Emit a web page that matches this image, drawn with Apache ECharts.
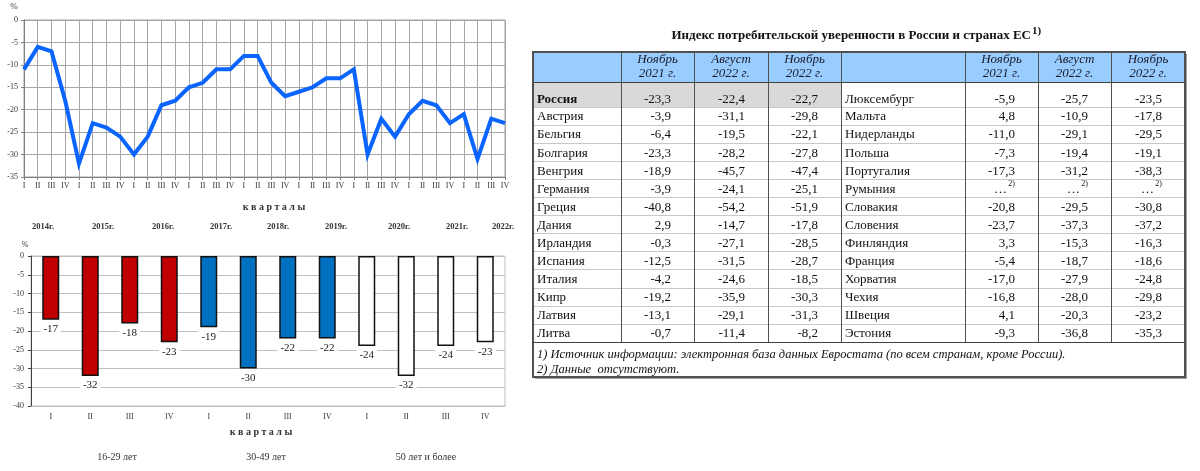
<!DOCTYPE html>
<html><head><meta charset="utf-8">
<script src="https://cdn.jsdelivr.net/npm/echarts@6/dist/echarts.min.js"></script>
<style>html,body{margin:0;padding:0;background:#fff}#c{width:1200px;height:471px}</style>
</head><body><div id="c"></div>
<script>
// ---------- DATA ----------
const quarterNames = ['I', 'II', 'III', 'IV'];
const lineYears = ['2014г.', '2015г.', '2016г.', '2017г.', '2018г.', '2019г.', '2020г.', '2021г.', '2022г.'];
const lineValues = [
  -11, -6, -7, -18,
  -32, -23, -24, -26,
  -30, -26, -19, -18,
  -15, -14, -11, -11,
  -8, -8, -14, -17,
  -16, -15, -13, -13,
  -11, -30, -22, -26,
  -21, -18, -19, -23,
  -21, -31, -22, -23
];
const lineCategories = [];
lineYears.forEach(() => quarterNames.forEach(q => lineCategories.push(q)));

const barGroups = ['16-29 лет', '30-49 лет', '50 лет и более'];
const barCategories = ['I', 'II', 'III', 'IV', 'I', 'II', 'III', 'IV', 'I', 'II', 'III', 'IV'];
const barValues = [-17, -32, -18, -23, -19, -30, -22, -22, -24, -32, -24, -23];

const tableTitle = 'Индекс потребительской уверенности в России и странах ЕС';
const tableHeaders = ['Ноябрь\n2021 г.', 'Август\n2022 г.', 'Ноябрь\n2022 г.'];
const countriesLeft = ['Россия', 'Австрия', 'Бельгия', 'Болгария', 'Венгрия', 'Германия', 'Греция', 'Дания', 'Ирландия', 'Испания', 'Италия', 'Кипр', 'Латвия', 'Литва'];
const nov2021Left = [-23.3, -3.9, -6.4, -23.3, -18.9, -3.9, -40.8, 2.9, -0.3, -12.5, -4.2, -19.2, -13.1, -0.7];
const aug2022Left = [-22.4, -31.1, -19.5, -28.2, -45.7, -24.1, -54.2, -14.7, -27.1, -31.5, -24.6, -35.9, -29.1, -11.4];
const nov2022Left = [-22.7, -29.8, -22.1, -27.8, -47.4, -25.1, -51.9, -17.8, -28.5, -28.7, -18.5, -30.3, -31.3, -8.2];
const countriesRight = ['Люксембург', 'Мальта', 'Нидерланды', 'Польша', 'Португалия', 'Румыния', 'Словакия', 'Словения', 'Финляндия', 'Франция', 'Хорватия', 'Чехия', 'Швеция', 'Эстония'];
const nov2021Right = [-5.9, 4.8, -11.0, -7.3, -17.3, null, -20.8, -23.7, 3.3, -5.4, -17.0, -16.8, 4.1, -9.3];
const aug2022Right = [-25.7, -10.9, -29.1, -19.4, -31.2, null, -29.5, -37.3, -15.3, -18.7, -27.9, -28.0, -20.3, -36.8];
const nov2022Right = [-23.5, -17.8, -29.5, -19.1, -38.3, null, -30.8, -37.2, -16.3, -18.6, -24.8, -29.8, -23.2, -35.3];
const footnotes = [
  '1) Источник информации: электронная база данных Евростата (по всем странам, кроме России).',
  '2) Данные  отсутствуют.'
];

// ---------- STYLE / LAYOUT ----------
const SERIF = '"Liberation Serif", "DejaVu Serif", serif';
const groupColors = ['#c00000', '#0070c0', '#ffffff'];
const yearLabelX = [43, 103, 163, 221, 278, 336, 399, 457, 503];
const groupLabelX = [117, 266, 426];

const chart = echarts.init(document.getElementById('c'), null, { renderer: 'canvas' });

const fmt = v => v === null ? null : v.toFixed(1).replace('.', ',');

// ---------- TABLE (graphic) ----------
const G = [];
const X = [533, 621, 694, 768, 841, 965, 1038, 1111, 1185];
const yHeadTop = 52, yHeadBot = 82, yRusBot = 107, rowH = 18.05;
const nRows = countriesLeft.length;
const yFootTop = yRusBot + (nRows - 1) * rowH;
const yBot = 377;
const rowTop = i => i === 0 ? yHeadBot : yRusBot + (i - 1) * rowH;
const rowBot = i => i === 0 ? yRusBot : yRusBot + i * rowH;
const rowTextY = i => i === 0 ? 100 : rowTop(i) + rowH / 2 + 1;

G.push({ type: 'rect', shape: { x: X[0], y: yHeadTop, width: X[8] - X[0], height: yHeadBot - yHeadTop }, style: { fill: '#99ccff' }, silent: true });
G.push({ type: 'rect', shape: { x: X[0], y: yHeadBot, width: X[4] - X[0], height: yRusBot - yHeadBot }, style: { fill: '#d9d9d9' }, silent: true });
for (let i = 0; i < nRows - 1; i++) {
  const y = Math.round(rowBot(i)) + 0.5;
  G.push({ type: 'line', shape: { x1: X[0], y1: y, x2: X[8], y2: y }, style: { stroke: '#c8c8c8', lineWidth: 1 }, silent: true });
}
G.push({ type: 'line', shape: { x1: X[0], y1: yHeadBot + 0.5, x2: X[8], y2: yHeadBot + 0.5 }, style: { stroke: '#404040', lineWidth: 1 }, silent: true });
G.push({ type: 'line', shape: { x1: X[0], y1: Math.round(yFootTop) + 0.5, x2: X[8], y2: Math.round(yFootTop) + 0.5 }, style: { stroke: '#404040', lineWidth: 1 }, silent: true });
for (let c = 1; c < 8; c++) {
  G.push({ type: 'line', shape: { x1: X[c] + 0.5, y1: yHeadTop, x2: X[c] + 0.5, y2: Math.round(yFootTop) }, style: { stroke: '#505050', lineWidth: 1 }, silent: true });
}
G.push({ type: 'rect', shape: { x: X[0], y: yHeadTop, width: X[8] - X[0], height: yBot - yHeadTop }, style: { fill: 'none', stroke: '#505050', lineWidth: 2 }, silent: true });
G.push({ type: 'line', shape: { x1: X[8] + 1.5, y1: yHeadTop + 2, x2: X[8] + 1.5, y2: yBot + 1.5 }, style: { stroke: '#a0a0a0', lineWidth: 1 }, silent: true });
G.push({ type: 'line', shape: { x1: X[0] + 2, y1: yBot + 1.5, x2: X[8] + 1.5, y2: yBot + 1.5 }, style: { stroke: '#a0a0a0', lineWidth: 1 }, silent: true });

// title
G.push({ type: 'text', style: { x: 1031, y: 36, text: tableTitle, font: 'bold 13px ' + SERIF, textAlign: 'right', textVerticalAlign: 'middle', fill: '#111' }, silent: true });
G.push({ type: 'text', style: { x: 1032, y: 31, text: '1)', font: 'bold 11px ' + SERIF, textAlign: 'left', textVerticalAlign: 'middle', fill: '#111' }, silent: true });

// headers
[1, 2, 3, 5, 6, 7].forEach((c, k) => {
  const h = tableHeaders[k % 3].split('\n');
  const cx = (X[c] + X[c + 1]) / 2;
  G.push({ type: 'text', style: { x: cx, y: 60, text: h[0], font: 'italic 13px ' + SERIF, textAlign: 'center', textVerticalAlign: 'middle', fill: '#1a1a2a' }, silent: true });
  G.push({ type: 'text', style: { x: cx, y: 74, text: h[1], font: 'italic 13px ' + SERIF, textAlign: 'center', textVerticalAlign: 'middle', fill: '#1a1a2a' }, silent: true });
});

function addRow(i, name, vals, nameX, c0) {
  const y = rowTextY(i);
  G.push({ type: 'text', style: { x: nameX, y: y, text: name, font: (i === 0 && c0 === 1 ? 'bold ' : '') + '13px ' + SERIF, textAlign: 'left', textVerticalAlign: 'middle', fill: '#111' }, silent: true });
  vals.forEach((v, k) => {
    const rx = X[c0 + k + 1] - 23;
    if (v === null) {
      G.push({ type: 'text', style: { x: rx, y: y - 5, text: '2)', font: '8px ' + SERIF, textAlign: 'right', textVerticalAlign: 'middle', fill: '#111' }, silent: true });
      G.push({ type: 'text', style: { x: rx - 8, y: y, text: '…', font: '13px ' + SERIF, textAlign: 'right', textVerticalAlign: 'middle', fill: '#111' }, silent: true });
    } else {
      G.push({ type: 'text', style: { x: rx, y: y, text: fmt(v), font: '13px ' + SERIF, textAlign: 'right', textVerticalAlign: 'middle', fill: '#111' }, silent: true });
    }
  });
}
for (let i = 0; i < nRows; i++) {
  addRow(i, countriesLeft[i], [nov2021Left[i], aug2022Left[i], nov2022Left[i]], X[0] + 4, 1);
  addRow(i, countriesRight[i], [nov2021Right[i], aug2022Right[i], nov2022Right[i]], X[4] + 4, 5);
}
footnotes.forEach((t, k) => {
  G.push({ type: 'text', style: { x: X[0] + 4, y: 355 + k * 15, text: t, font: 'italic 12.5px ' + SERIF, textAlign: 'left', textVerticalAlign: 'middle', fill: '#111' }, silent: true });
});

// chart annotations
G.push({ type: 'text', style: { x: 14, y: 7, text: '%', font: '9px ' + SERIF, textAlign: 'center', textVerticalAlign: 'middle', fill: '#333' }, silent: true });
G.push({ type: 'text', style: { x: 274, y: 207, text: 'к в а р т а л ы', font: 'bold 10px ' + SERIF, textAlign: 'center', textVerticalAlign: 'middle', fill: '#333' }, silent: true });
lineYears.forEach((t, k) => {
  G.push({ type: 'text', style: { x: yearLabelX[k], y: 227, text: t, font: 'bold 8.5px ' + SERIF, textAlign: 'center', textVerticalAlign: 'middle', fill: '#333' }, silent: true });
});
G.push({ type: 'text', style: { x: 25, y: 245, text: '%', font: '8px ' + SERIF, textAlign: 'center', textVerticalAlign: 'middle', fill: '#333' }, silent: true });
G.push({ type: 'text', style: { x: 261, y: 432, text: 'к в а р т а л ы', font: 'bold 10px ' + SERIF, textAlign: 'center', textVerticalAlign: 'middle', fill: '#333' }, silent: true });
barGroups.forEach((t, k) => {
  G.push({ type: 'text', style: { x: groupLabelX[k], y: 457, text: t, font: '10px ' + SERIF, textAlign: 'center', textVerticalAlign: 'middle', fill: '#333' }, silent: true });
});

// ---------- OPTION ----------
const axisText = { fontFamily: SERIF, fontSize: 8, color: '#333' };
const option = {
  animation: false,
  backgroundColor: '#fff',
  grid: [
    { left: 24, top: 20, width: 481, height: 157, show: true, borderColor: '#a0a0a0', borderWidth: 1, containLabel: false },
    { left: 31, top: 256, width: 474, height: 150, show: true, borderColor: '#bfbfbf', borderWidth: 1, containLabel: false }
  ],
  xAxis: [
    {
      gridIndex: 0, type: 'category', data: lineCategories, boundaryGap: false,
      axisLine: { onZero: false, lineStyle: { color: '#808080' } },
      axisTick: { show: true, length: 3, lineStyle: { color: '#808080' } },
      axisLabel: Object.assign({ interval: 0, margin: 5 }, axisText),
      splitLine: { show: true, interval: 0, lineStyle: { color: '#a6a6a6', width: 1 } }
    },
    {
      gridIndex: 1, type: 'category', data: barCategories, boundaryGap: true,
      axisLine: { onZero: false, lineStyle: { color: '#bfbfbf' } },
      axisTick: { show: false },
      axisLabel: Object.assign({ interval: 0, margin: 7 }, axisText),
      splitLine: { show: false }
    }
  ],
  yAxis: [
    {
      gridIndex: 0, type: 'value', min: -35, max: 0, interval: 5,
      axisLine: { show: true, lineStyle: { color: '#808080' } },
      axisTick: { show: true, length: 3, lineStyle: { color: '#808080' } },
      axisLabel: Object.assign({ margin: 6 }, axisText),
      splitLine: { show: true, lineStyle: { color: '#a6a6a6', width: 1 } }
    },
    {
      gridIndex: 1, type: 'value', min: -40, max: 0, interval: 5,
      axisLine: { show: true, lineStyle: { color: '#404040' } },
      axisTick: { show: true, length: 3, lineStyle: { color: '#404040' } },
      axisLabel: Object.assign({ margin: 7 }, axisText),
      splitLine: { show: true, lineStyle: { color: '#bfbfbf', width: 1 } }
    }
  ],
  series: [
    {
      type: 'line', xAxisIndex: 0, yAxisIndex: 0, data: lineValues,
      showSymbol: false, symbol: 'none',
      lineStyle: { color: '#0a64ff', width: 4, join: 'miter' }
    },
    {
      type: 'bar', xAxisIndex: 1, yAxisIndex: 1,
      data: barValues.map((v, i) => ({ value: v, itemStyle: { color: groupColors[Math.floor(i / 4)] } })),
      barWidth: 17,
      itemStyle: { borderColor: '#111', borderWidth: 1.5 },
      label: {
        show: true, position: 'bottom', distance: 3,
        fontFamily: SERIF, fontSize: 11, color: '#222',
        backgroundColor: '#fff', padding: [1, 3]
      }
    }
  ],
  graphic: { elements: G }
};
chart.setOption(option);
</script>
</body></html>
